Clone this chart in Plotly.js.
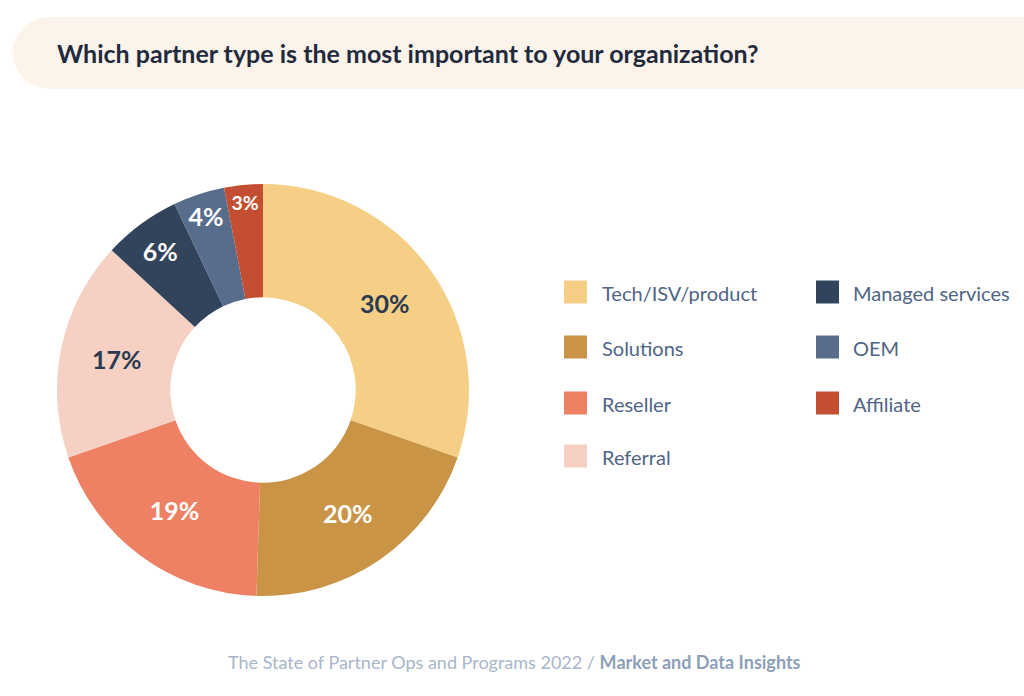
<!DOCTYPE html>
<html>
<head>
<meta charset="utf-8">
<script src="https://cdn.plot.ly/plotly-3.0.1.min.js"></script>
<style>
  html, body { margin: 0; padding: 0; background: #ffffff; }
  #chart { width: 1024px; height: 696px; }
</style>
</head>
<body>
<div id="chart"></div>
<script>
// partner types and share of respondents (%)
const partnerTypes = ['Tech/ISV/product', 'Solutions', 'Reseller', 'Referral', 'Managed services', 'OEM', 'Affiliate'];
const shares = [30, 20, 19, 17, 6, 4, 3];
const sliceColors = ['#f6cf86', '#c99446', '#ee8163', '#f6d0c3', '#32445c', '#586d8c', '#c44e32'];
const labelColors = ['#2b3a50', '#ffffff', '#ffffff', '#2b3a50', '#ffffff', '#ffffff', '#ffffff'];

const W = 1024, H = 696;
const px = x => x / W;
const py = y => 1 - y / H;

const donut = {
    type: 'pie',
    labels: partnerTypes,
    values: shares,
    sort: false,
    direction: 'clockwise',
    rotation: 0,
    hole: 0.45,
    marker: { colors: sliceColors, line: { color: '#ffffff', width: 0 } },
    texttemplate: '%{value}%',
    textposition: 'inside',
    insidetextorientation: 'horizontal',
    textfont: { family: 'Lato, sans-serif', size: 25, color: labelColors, weight: 'bold' },
    hoverinfo: 'label+value',
    domain: { x: [px(57), px(469)], y: [py(596), py(184)] },
    showlegend: false
};

// title banner: rounded left end
const shapes = [{
    type: 'rect', xref: 'paper', yref: 'paper',
    x0: px(49), x1: px(1060), y0: py(89), y1: py(17),
    fillcolor: '#fcf3ea', line: { width: 0 }, layer: 'below'
}, {
    type: 'circle', xref: 'paper', yref: 'paper',
    x0: px(13), x1: px(85), y0: py(89), y1: py(17),
    fillcolor: '#fcf3ea', line: { width: 0 }, layer: 'below'
}];
const annotations = [];

// hand-built two column legend, like the report's
const legendRows = [292, 347, 403, 456];
partnerTypes.forEach((name, i) => {
    const col = i < 4 ? 0 : 1;
    const row = i < 4 ? i : i - 4;
    const sqX = col === 0 ? 564 : 816;
    const txtX = col === 0 ? 600 : 851;
    const cy = legendRows[row];
    shapes.push({
        type: 'rect', xref: 'paper', yref: 'paper',
        x0: px(sqX), x1: px(sqX + 23), y0: py(cy + 11.5), y1: py(cy - 11.5),
        fillcolor: sliceColors[i], line: { width: 0 }
    });
    annotations.push({
        xref: 'paper', yref: 'paper', x: px(txtX), y: py(cy + 1),
        xanchor: 'left', yanchor: 'middle', showarrow: false,
        text: name,
        font: { family: 'Lato, sans-serif', size: 20, color: '#4f6586' }
    });
});

annotations.push({
    xref: 'paper', yref: 'paper', x: px(55), y: py(53),
    xanchor: 'left', yanchor: 'middle', showarrow: false,
    text: '<b>Which partner type is the most important to your organization?</b>',
    font: { family: 'Lato, sans-serif', size: 25, color: '#1f2b3d' }
});
annotations.push({
    xref: 'paper', yref: 'paper', x: px(514), y: py(662),
    xanchor: 'center', yanchor: 'middle', showarrow: false,
    text: 'The State of Partner Ops and Programs 2022 / <b><span style="color:#8e9fb8">Market and Data Insights</span></b>',
    font: { family: 'Lato, sans-serif', size: 18, color: '#a8b6ca' }
});

const layout = {
    width: W,
    height: H,
    margin: { t: 0, b: 0, l: 0, r: 0 },
    paper_bgcolor: '#ffffff',
    shapes: shapes,
    annotations: annotations,
    showlegend: false
};

Plotly.newPlot('chart', [donut], layout, { displayModeBar: false, staticPlot: true });
</script>
</body>
</html>
